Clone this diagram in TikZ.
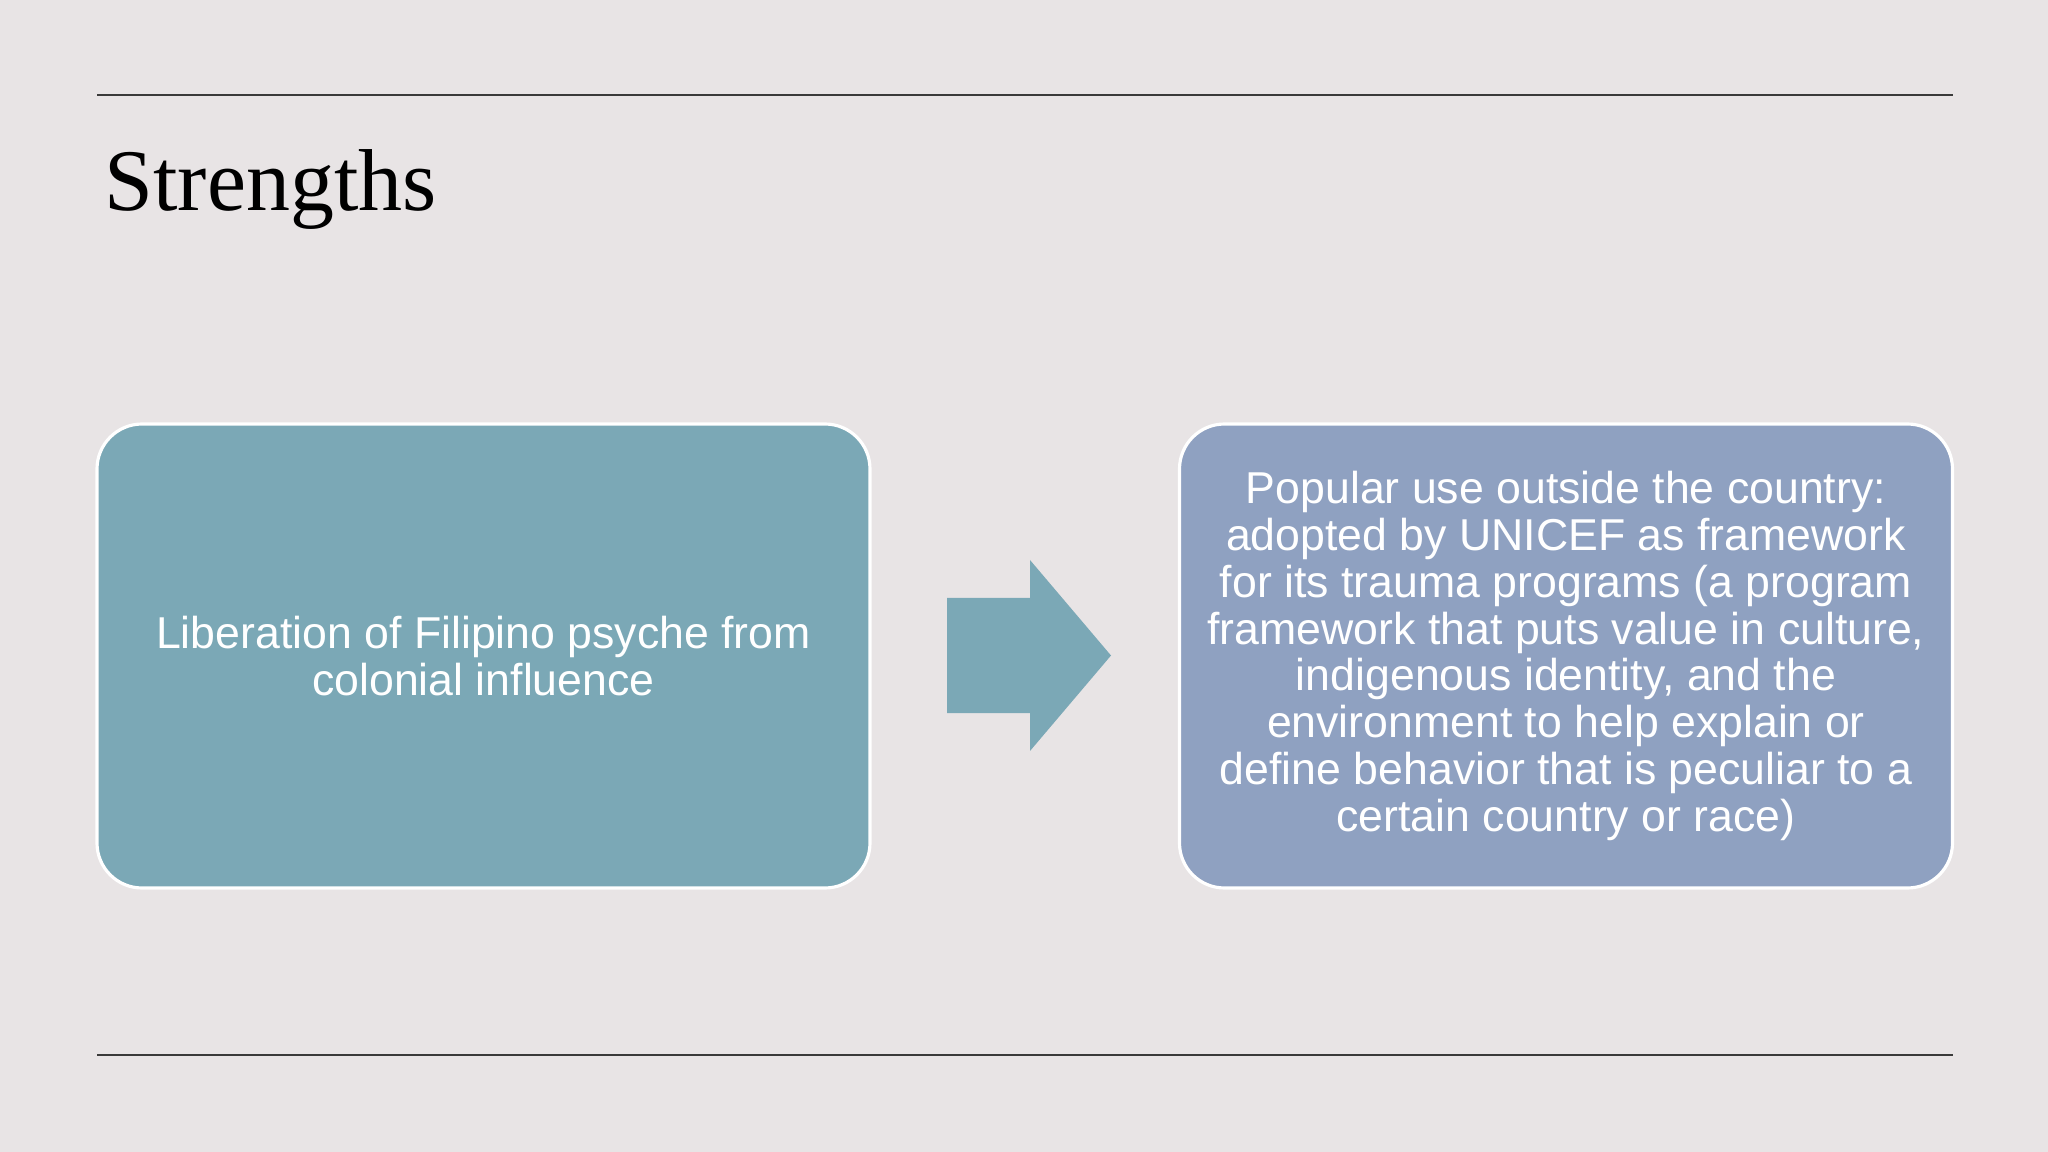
\documentclass[tikz,border=0pt]{standalone}
\usepackage{fontspec}
\setmainfont{Liberation Serif}
\setsansfont{Liberation Sans}
\usetikzlibrary{positioning}

\definecolor{slidebg}{HTML}{E8E4E5}
\definecolor{tealbox}{HTML}{7BA8B6}
\definecolor{bluebox}{HTML}{8FA1C1}
\definecolor{rulegray}{HTML}{3A3A3A}

\begin{document}
\begin{tikzpicture}[
    ruleline/.style={draw=rulegray, line width=0.5pt},
    pointbox/.style={rounded corners=0.45cm, draw=white, line width=0.9pt,
      minimum width=7.73cm, minimum height=4.64cm, text=white, align=center,
      font=\sffamily\fontsize{12.7}{13.3}\selectfont}
  ]
      \fill[slidebg] (0, 0) rectangle (20.48, -11.52);
      \useasboundingbox (0, 0) rectangle (20.48, -11.52);

      \draw[ruleline] (0.97, -0.95) to (19.53, -0.95);
      \draw[ruleline] (0.97, -10.55) to (19.53, -10.55);

      \node[anchor=base west, inner sep=0pt, font=\fontsize{25}{30}\selectfont] (title) at (1.04, -2.11) {Strengths};

      \node[pointbox, fill=tealbox] (liberation) at (4.835, -6.56)
        {Liberation of Filipino psyche from\\colonial influence};
      \node[pointbox, fill=bluebox] (popular) at (15.66, -6.56)
        {Popular use outside the country:\\adopted by UNICEF as framework\\for its trauma programs (a program\\framework that puts value in culture,\\indigenous identity, and the\\environment to help explain or\\define behavior that is peculiar to a\\certain country or race)};

      \fill[tealbox] (9.47, -5.98) -- (10.30, -5.98) -- (10.30, -5.60) -- (11.11, -6.555)
        -- (10.30, -7.51) -- (10.30, -7.13) -- (9.47, -7.13) -- cycle;
    \end{tikzpicture}
\end{document}
